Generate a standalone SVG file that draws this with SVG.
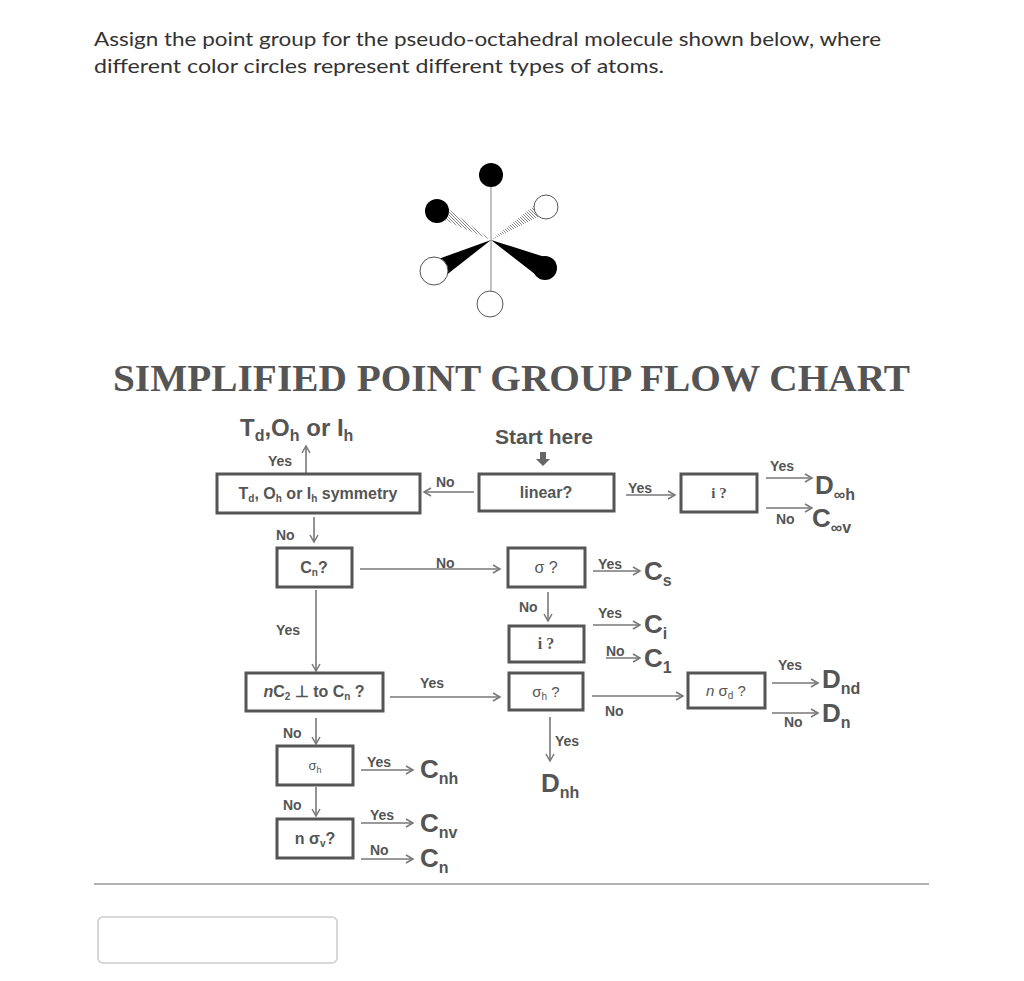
<svg xmlns="http://www.w3.org/2000/svg" width="1024" height="981" viewBox="0 0 1024 981">
<defs>
<marker id="ar" markerWidth="10" markerHeight="10" refX="8" refY="5" orient="auto" markerUnits="userSpaceOnUse"><path d="M1,1 L8,5 L1,9" fill="none" stroke="#777" stroke-width="1.5"/></marker>
<pattern id="hatch" width="3" height="3" patternUnits="userSpaceOnUse"><rect width="3" height="3" fill="#fff"/><path d="M0,0 L3,3" stroke="#888" stroke-width="1"/></pattern>
</defs>
<style>
.q{font-family:"Lato","Open Sans",sans-serif;font-size:20px;fill:#333}
.b{fill:#fff;stroke:#555;stroke-width:3}
.t{font-family:"Liberation Sans",Arial,sans-serif;font-weight:bold;fill:#555}
.s{font-size:16px}
.l{font-size:14px}
.r{font-size:26px}
.c{stroke:#777;stroke-width:1.6;fill:none}
</style>
<rect width="1024" height="981" fill="#fff"/>
<text class="q" x="94" y="46" textLength="787" lengthAdjust="spacingAndGlyphs">Assign the point group for the pseudo-octahedral molecule shown below, where</text>
<text class="q" x="94" y="73" textLength="570" lengthAdjust="spacingAndGlyphs">different color circles represent different types of atoms.</text>
<g id="molecule">
<line x1="491" y1="175" x2="491" y2="305" stroke="#999" stroke-width="1.2"/>
<polygon points="491,240 443,205 437,217" fill="url(#hatch)"/>
<polygon points="491,240 540,201 546,213" fill="url(#hatch)"/>
<polygon points="491,240 430,262 440,280" fill="#000"/>
<polygon points="491,240 548,258 540,278" fill="#000"/>
<circle cx="491" cy="175" r="12" fill="#000"/>
<circle cx="437" cy="211" r="12" fill="#000"/>
<circle cx="546" cy="207" r="12" fill="#fff" stroke="#555"/>
<circle cx="434" cy="271" r="14" fill="#fff" stroke="#555"/>
<circle cx="545" cy="268" r="12" fill="#000"/>
<circle cx="490" cy="304" r="13" fill="#fff" stroke="#555"/>
</g>
<text x="113" y="391" textLength="797" lengthAdjust="spacingAndGlyphs" font-family="Liberation Serif,serif" font-weight="bold" font-size="38" fill="#555">SIMPLIFIED POINT GROUP FLOW CHART</text>
<text class="t" x="240" y="436" font-size="24">T<tspan font-size="16" dy="5">d</tspan><tspan dy="-5">,O</tspan><tspan font-size="16" dy="5">h</tspan><tspan dy="-5"> or I</tspan><tspan font-size="16" dy="5">h</tspan></text>
<text class="t" x="544" y="444" text-anchor="middle" font-size="21">Start here</text>
<path d="M540,452 h6 v7 h4 l-7,7 l-7,-7 h4 z" fill="#666"/>
<g id="connectors">
<line class="c" x1="306" y1="474" x2="306" y2="446" marker-end="url(#ar)"/>
<line class="c" x1="474" y1="492" x2="424" y2="492" marker-end="url(#ar)"/>
<line class="c" x1="626" y1="495" x2="675" y2="495" marker-end="url(#ar)"/>
<line class="c" x1="766" y1="478" x2="812" y2="478" marker-end="url(#ar)"/>
<line class="c" x1="766" y1="508" x2="812" y2="508" marker-end="url(#ar)"/>
<line class="c" x1="314" y1="517" x2="314" y2="542" marker-end="url(#ar)"/>
<line class="c" x1="360" y1="569" x2="500" y2="569" marker-end="url(#ar)"/>
<line class="c" x1="593" y1="571" x2="640" y2="571" marker-end="url(#ar)"/>
<line class="c" x1="548" y1="592" x2="548" y2="621" marker-end="url(#ar)"/>
<line class="c" x1="593" y1="625" x2="640" y2="625" marker-end="url(#ar)"/>
<line class="c" x1="606" y1="658" x2="640" y2="658" marker-end="url(#ar)"/>
<line class="c" x1="316" y1="590" x2="316" y2="671" marker-end="url(#ar)"/>
<line class="c" x1="390" y1="697" x2="500" y2="697" marker-end="url(#ar)"/>
<line class="c" x1="592" y1="696" x2="683" y2="696" marker-end="url(#ar)"/>
<line class="c" x1="772" y1="683" x2="818" y2="683" marker-end="url(#ar)"/>
<line class="c" x1="772" y1="713" x2="818" y2="713" marker-end="url(#ar)"/>
<line class="c" x1="550" y1="717" x2="550" y2="761" marker-end="url(#ar)"/>
<line class="c" x1="316" y1="718" x2="316" y2="744" marker-end="url(#ar)"/>
<line class="c" x1="361" y1="770" x2="413" y2="770" marker-end="url(#ar)"/>
<line class="c" x1="316" y1="787" x2="316" y2="816" marker-end="url(#ar)"/>
<line class="c" x1="361" y1="823" x2="413" y2="823" marker-end="url(#ar)"/>
<line class="c" x1="361" y1="859" x2="413" y2="859" marker-end="url(#ar)"/>
</g>
<g class="t l">
<text x="268" y="466">Yes</text>
<text x="436" y="487">No</text>
<text x="628" y="493">Yes</text>
<text x="770" y="471">Yes</text>
<text x="776" y="524">No</text>
<text x="276" y="540">No</text>
<text x="436" y="568">No</text>
<text x="598" y="569">Yes</text>
<text x="519" y="612">No</text>
<text x="598" y="618">Yes</text>
<text x="606" y="656">No</text>
<text x="276" y="635">Yes</text>
<text x="420" y="688">Yes</text>
<text x="605" y="716">No</text>
<text x="778" y="670">Yes</text>
<text x="784" y="727">No</text>
<text x="555" y="746">Yes</text>
<text x="283" y="738">No</text>
<text x="367" y="767">Yes</text>
<text x="283" y="810">No</text>
<text x="370" y="820">Yes</text>
<text x="370" y="855">No</text>
</g>
<g id="n-tdoh"><rect class="b" x="217" y="474" width="203" height="39"/><text class="t s" x="318" y="499" text-anchor="middle">T<tspan font-size="10" dy="3">d</tspan><tspan dy="-3">, O</tspan><tspan font-size="10" dy="3">h</tspan><tspan dy="-3"> or I</tspan><tspan font-size="10" dy="3">h</tspan><tspan dy="-3"> symmetry</tspan></text></g>
<g id="n-linear"><rect class="b" x="479" y="474" width="135" height="37"/><text class="t s" x="546" y="498" text-anchor="middle">linear?</text></g>
<g id="n-i1"><rect class="b" x="681" y="474" width="76" height="38"/><text x="719" y="498" text-anchor="middle" font-family="Liberation Serif,serif" font-weight="bold" font-size="15" fill="#555">i ?</text></g>
<g id="n-cn"><rect class="b" x="277" y="548" width="75" height="39"/><text class="t s" x="314" y="573" text-anchor="middle">C<tspan font-size="10" dy="3">n</tspan><tspan dy="-3">?</tspan></text></g>
<g id="n-sigma"><rect class="b" x="508" y="548" width="77" height="39"/><text x="546" y="573" text-anchor="middle" font-family="Liberation Sans,sans-serif" font-size="16" fill="#555">σ ?</text></g>
<g id="n-i2"><rect class="b" x="509" y="626" width="75" height="36"/><text x="546" y="649" text-anchor="middle" font-family="Liberation Serif,serif" font-weight="bold" font-size="16" fill="#555">i ?</text></g>
<g id="n-nc2"><rect class="b" x="246" y="673" width="137" height="38"/><text class="t s" x="314" y="697" text-anchor="middle"><tspan font-style="italic">n</tspan>C<tspan font-size="10" dy="3">2</tspan><tspan dy="-3"> ⊥ to C</tspan><tspan font-size="10" dy="3">n</tspan><tspan dy="-3"> ?</tspan></text></g>
<g id="n-sigmah"><rect class="b" x="509" y="673" width="74" height="37"/><text x="546" y="697" text-anchor="middle" font-family="Liberation Sans,sans-serif" font-size="15" fill="#555">σ<tspan font-size="10" dy="3">h</tspan><tspan dy="-3"> ?</tspan></text></g>
<g id="n-nsd"><rect class="b" x="688" y="673" width="77" height="35"/><text x="726" y="696" text-anchor="middle" font-family="Liberation Sans,sans-serif" font-size="15" fill="#555"><tspan font-style="italic">n</tspan> σ<tspan font-size="10" dy="3">d</tspan><tspan dy="-3"> ?</tspan></text></g>
<g id="n-sh"><rect class="b" x="277" y="746" width="76" height="39"/><text x="315" y="770" text-anchor="middle" font-family="Liberation Sans,sans-serif" font-size="13" fill="#555">σ<tspan font-size="9" dy="3">h</tspan></text></g>
<g id="n-nsv"><rect class="b" x="277" y="819" width="76" height="39"/><text class="t s" x="315" y="844" text-anchor="middle">n σ<tspan font-size="10" dy="3">v</tspan><tspan dy="-3">?</tspan></text></g>
<g class="t r">
<text x="815" y="494">D<tspan font-size="16" dy="6">∞h</tspan></text>
<text x="812" y="527">C<tspan font-size="16" dy="6">∞v</tspan></text>
<text x="644" y="580">C<tspan font-size="16" dy="6">s</tspan></text>
<text x="644" y="633">C<tspan font-size="16" dy="6">i</tspan></text>
<text x="644" y="667">C<tspan font-size="16" dy="6">1</tspan></text>
<text x="822" y="688">D<tspan font-size="16" dy="6">nd</tspan></text>
<text x="822" y="722">D<tspan font-size="16" dy="6">n</tspan></text>
<text x="541" y="792">D<tspan font-size="16" dy="6">nh</tspan></text>
<text x="420" y="778">C<tspan font-size="16" dy="6">nh</tspan></text>
<text x="420" y="832">C<tspan font-size="16" dy="6">nv</tspan></text>
<text x="420" y="867">C<tspan font-size="16" dy="6">n</tspan></text>
</g>
<line x1="94" y1="884" x2="929" y2="884" stroke="#999" stroke-width="1.5"/>
<rect x="98" y="917" width="239" height="46" rx="5" fill="#fff" stroke="#ccc" stroke-width="1.5"/>
</svg>
